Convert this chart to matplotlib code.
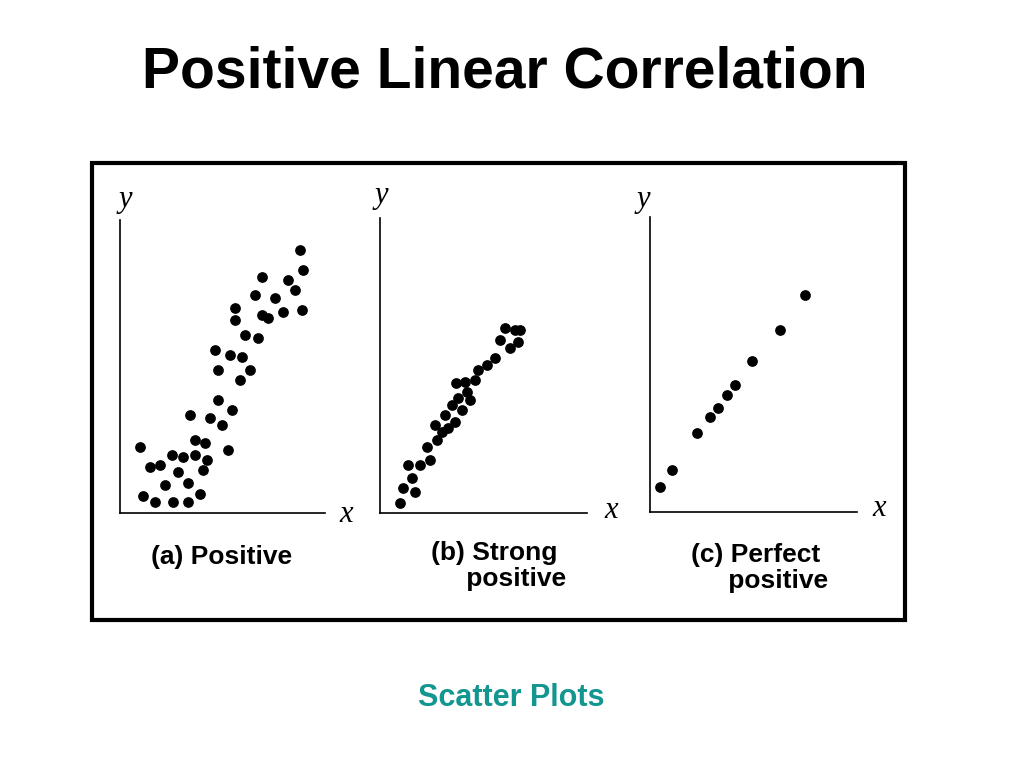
import matplotlib
matplotlib.use("Agg")
import matplotlib.pyplot as plt
from matplotlib.patches import Rectangle

# Data (pixel offsets from each panel's origin, x right, y up)
a_x = [20,30,40,52,63,75,23,35,45,53,58,68,68,80,83,87,70,75,85,90,98,102,108,112,120,95,98,110,122,130,125,138,142,115,115,135,142,148,155,163,168,175,180,183,182]
a_y = [66,46,48,58,56,58,17,11,28,11,41,11,30,19,43,53,98,73,70,95,113,88,63,103,133,163,143,158,156,143,178,175,198,205,193,218,236,195,215,201,233,223,263,243,203]
b_x = [20,23,35,32,28,40,50,47,57,55,62,65,68,75,72,78,76,82,87,90,95,85,98,107,115,120,125,130,135,138,140]
b_y = [10,25,21,35,48,48,53,66,73,88,81,98,85,91,108,115,130,103,121,113,133,131,143,148,155,173,185,165,183,171,183]
c_x = [10,22,47,60,68,77,85,102,130,155]
c_y = [25,42,79,95,104,117,127,151,182,217]

panels = [
    (a_x, a_y, 120, 513, 205, 293, "(a) Positive", (222, 557)),
    (b_x, b_y, 380, 513, 207, 295, "(b) Strong\n      positive", (494, 566)),
    (c_x, c_y, 650, 512, 207, 295, "(c) Perfect\n      positive", (756, 568)),
]
ylab_pos = [(125, 200), (381, 195), (643, 200)]
xlab_pos = [(346, 515), (611, 510), (879, 508)]

W, H = 1024, 768
fig = plt.figure(figsize=(10.24, 7.68), dpi=100)
bg = fig.add_axes([0, 0, 1, 1])
bg.set_xlim(0, W); bg.set_ylim(H, 0); bg.axis("off")
bg.add_patch(Rectangle((92, 163), 813, 457, fill=False, lw=3, ec="black"))
bg.text(505, 72, "Positive Linear Correlation", ha="center", va="center",
        fontsize=41, fontweight="bold", family="Liberation Sans")
bg.text(511, 698, "Scatter Plots", ha="center", va="center", fontsize=22,
        fontweight="bold", color="#12968f", family="Liberation Sans")

for i, (xs, ys, ox, oy, w, h, cap, cp) in enumerate(panels):
    ax = fig.add_axes([ox / W, (H - oy) / H, w / W, h / H])
    ax.set_xlim(0, w); ax.set_ylim(0, h)
    ax.scatter(xs, ys, s=45, c="black", clip_on=False)
    for s in ["top", "right"]:
        ax.spines[s].set_visible(False)
    for s in ["left", "bottom"]:
        ax.spines[s].set_linewidth(1.2)
    ax.set_xticks([]); ax.set_yticks([])
    ax.patch.set_alpha(0)
    bg.text(*ylab_pos[i], "y", ha="center", va="center", fontsize=22,
            style="italic", family="Liberation Serif")
    bg.text(*xlab_pos[i], "x", ha="center", va="center", fontsize=22,
            style="italic", family="Liberation Serif")
    bg.text(cp[0], cp[1], cap, ha="center", va="center", fontsize=19,
            fontweight="bold", family="Liberation Sans", linespacing=1.1)

fig.savefig("out.png", dpi=100)
